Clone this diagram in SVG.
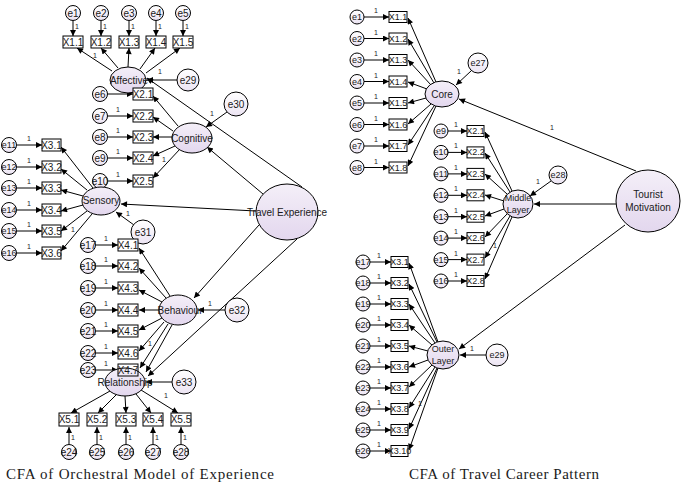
<svg xmlns="http://www.w3.org/2000/svg" width="685" height="486" viewBox="0 0 685 486">
<style>
.lat{fill:url(#lg);stroke:#000;stroke-width:1}
.err{fill:url(#eg);stroke:#000;stroke-width:1}
.box{fill:#fff;stroke:#000;stroke-width:1}
.bx0{fill:none;stroke:#000;stroke-width:1}
text{font-family:"Liberation Sans",Arial,sans-serif;fill:#1a1a1a}
.t{font-size:10px;text-anchor:middle;dominant-baseline:central}
.s{font-size:9px;text-anchor:middle;dominant-baseline:central}
.one{font-size:7px;text-anchor:middle}
.con line{stroke:#000;stroke-width:1;marker-end:url(#ah)}
.cap{font-family:"Liberation Serif","Times New Roman",serif;font-size:15px}
</style>
<defs>
<marker id="ah" viewBox="0 0 10 10" refX="10" refY="5" markerUnits="userSpaceOnUse" markerWidth="8" markerHeight="6" orient="auto"><path d="M0,0L10,5L0,10z" fill="#000"/></marker>
<linearGradient id="lg" x1="0" y1="0" x2="0" y2="1"><stop offset="0" stop-color="#f4eff8"/><stop offset="1" stop-color="#e3d7ee"/></linearGradient>
<linearGradient id="eg" x1="0" y1="0" x2="0" y2="1"><stop offset="0" stop-color="#ffffff"/><stop offset="1" stop-color="#ece4f3"/></linearGradient>
</defs>
<rect width="685" height="486" fill="#fff"/>

<g id="connectors" class="con">
<line x1="73" y1="21" x2="73" y2="36"/><line x1="101" y1="21" x2="101" y2="36"/><line x1="129" y1="21" x2="129" y2="36"/><line x1="156" y1="21" x2="156" y2="36"/><line x1="183" y1="21" x2="183" y2="36"/>
<line x1="112" y1="71" x2="77" y2="48"/><line x1="118" y1="68" x2="101" y2="48"/><line x1="128" y1="67" x2="129" y2="48"/><line x1="140" y1="69" x2="155" y2="48"/><line x1="146" y1="73" x2="180" y2="48"/>
<line x1="108" y1="94" x2="133" y2="94"/><line x1="108" y1="116" x2="133" y2="116"/><line x1="108" y1="137" x2="133" y2="137"/><line x1="108" y1="158" x2="133" y2="158"/><line x1="108" y1="181" x2="133" y2="181"/>
<line x1="178" y1="126" x2="153" y2="96"/><line x1="173" y1="131" x2="153" y2="117"/><line x1="172" y1="137" x2="153" y2="137"/><line x1="175" y1="146" x2="153" y2="156"/><line x1="180" y1="149" x2="153" y2="178"/>
<line x1="17" y1="145" x2="42" y2="145"/><line x1="17" y1="167" x2="42" y2="167"/><line x1="17" y1="188" x2="42" y2="188"/><line x1="17" y1="210" x2="42" y2="210"/><line x1="17" y1="231" x2="42" y2="231"/><line x1="17" y1="253" x2="42" y2="253"/>
<line x1="93" y1="188" x2="61" y2="147"/><line x1="87" y1="190" x2="61" y2="169"/><line x1="83" y1="196" x2="61" y2="190"/><line x1="83" y1="205" x2="61" y2="211"/><line x1="87" y1="211" x2="61" y2="231"/><line x1="92" y1="214" x2="61" y2="251"/>
<line x1="96" y1="245" x2="118" y2="245"/><line x1="96" y1="266" x2="118" y2="266"/><line x1="96" y1="288" x2="118" y2="288"/><line x1="96" y1="310" x2="118" y2="310"/><line x1="96" y1="331" x2="118" y2="331"/><line x1="96" y1="353" x2="118" y2="353"/><line x1="96" y1="370" x2="118" y2="370"/>
<line x1="170" y1="296" x2="139" y2="248"/><line x1="166" y1="298" x2="139" y2="268"/><line x1="162" y1="302" x2="139" y2="290"/><line x1="159" y1="310" x2="139" y2="310"/><line x1="162" y1="318" x2="139" y2="330"/><line x1="164" y1="322" x2="139" y2="351"/><line x1="168" y1="324" x2="140" y2="368"/><line x1="172" y1="325" x2="146" y2="372"/>
<line x1="110" y1="391" x2="71" y2="413"/><line x1="117" y1="394" x2="98" y2="413"/><line x1="125" y1="396" x2="126" y2="413"/><line x1="136" y1="394" x2="151" y2="413"/><line x1="141" y1="390" x2="178" y2="413"/>
<line x1="69" y1="444" x2="69" y2="427"/><line x1="97" y1="444" x2="97" y2="427"/><line x1="126" y1="444" x2="126" y2="427"/><line x1="153" y1="444" x2="153" y2="427"/><line x1="181" y1="444" x2="181" y2="427"/>
<line x1="177" y1="80" x2="147" y2="80"/>
<line x1="227" y1="112" x2="206" y2="127"/>
<line x1="134" y1="225" x2="116" y2="212"/>
<line x1="225" y1="310" x2="198" y2="310"/>
<line x1="172" y1="382" x2="146" y2="382"/>
<line x1="302" y1="187" x2="147" y2="78"/>
<line x1="263" y1="194" x2="207" y2="147"/>
<line x1="256" y1="211" x2="121" y2="204"/>
<line x1="259" y1="225" x2="194" y2="298"/>
<line x1="297" y1="239" x2="148" y2="376"/>

<line x1="364" y1="17" x2="389" y2="17"/><line x1="364" y1="38.5" x2="389" y2="38.5"/><line x1="364" y1="60" x2="389" y2="60"/><line x1="364" y1="81.5" x2="389" y2="81.5"/><line x1="364" y1="103" x2="389" y2="103"/><line x1="364" y1="124.5" x2="389" y2="124.5"/><line x1="364" y1="146" x2="389" y2="146"/><line x1="364" y1="167.5" x2="389" y2="167.5"/>
<line x1="436" y1="82" x2="408" y2="18"/><line x1="434" y1="83" x2="408" y2="39"/><line x1="431" y1="85" x2="408" y2="60"/><line x1="427" y1="89" x2="408" y2="82"/><line x1="426" y1="98" x2="408" y2="103"/><line x1="431" y1="104" x2="408" y2="124"/><line x1="434" y1="106" x2="408" y2="145"/><line x1="436" y1="106" x2="408" y2="166"/>
<line x1="448" y1="131" x2="467" y2="131"/><line x1="448" y1="152.4" x2="467" y2="152.4"/><line x1="448" y1="173.9" x2="467" y2="173.9"/><line x1="448" y1="195.3" x2="467" y2="195.3"/><line x1="448" y1="216.7" x2="467" y2="216.7"/><line x1="448" y1="238.1" x2="467" y2="238.1"/><line x1="448" y1="259.6" x2="467" y2="259.6"/><line x1="448" y1="281" x2="467" y2="281"/>
<line x1="512" y1="191" x2="485" y2="132"/><line x1="510" y1="192" x2="485" y2="153"/><line x1="507" y1="194" x2="485" y2="174"/><line x1="504" y1="201" x2="485" y2="195"/><line x1="504" y1="209" x2="485" y2="216"/><line x1="507" y1="214" x2="485" y2="237"/><line x1="510" y1="216" x2="485" y2="258"/><line x1="512" y1="217" x2="485" y2="279"/>
<line x1="370" y1="262" x2="391" y2="262"/><line x1="370" y1="283" x2="391" y2="283"/><line x1="370" y1="304" x2="391" y2="304"/><line x1="370" y1="325" x2="391" y2="325"/><line x1="370" y1="346" x2="391" y2="346"/><line x1="370" y1="367" x2="391" y2="367"/><line x1="370" y1="388" x2="391" y2="388"/><line x1="370" y1="409" x2="391" y2="409"/><line x1="370" y1="430" x2="391" y2="430"/><line x1="370" y1="451" x2="391" y2="451"/>
<line x1="438" y1="342" x2="409" y2="263"/><line x1="437" y1="342" x2="409" y2="284"/><line x1="435" y1="343" x2="409" y2="304"/><line x1="432" y1="345" x2="409" y2="325"/><line x1="428" y1="351" x2="409" y2="346"/><line x1="428" y1="360" x2="409" y2="367"/><line x1="432" y1="365" x2="409" y2="387"/><line x1="435" y1="367" x2="409" y2="408"/><line x1="437" y1="368" x2="409" y2="429"/><line x1="438" y1="368" x2="409" y2="450"/>
<line x1="471" y1="71" x2="456" y2="85"/>
<line x1="551" y1="181" x2="530" y2="196"/>
<line x1="486" y1="355" x2="460" y2="355"/>
<line x1="636" y1="171" x2="459" y2="99"/>
<line x1="616" y1="204" x2="534" y2="204"/>
<line x1="625" y1="225" x2="459" y2="349"/>
</g>

<g id="labels-one">
<text class="one" x="77" y="29">1</text><text class="one" x="105" y="29">1</text><text class="one" x="133" y="29">1</text><text class="one" x="160" y="29">1</text><text class="one" x="187" y="29">1</text>
<text class="one" x="95" y="58">1</text>
<text class="one" x="160" y="74">1</text>
<text class="one" x="118" y="90">1</text><text class="one" x="118" y="112">1</text><text class="one" x="118" y="133">1</text><text class="one" x="118" y="154">1</text><text class="one" x="118" y="177">1</text>
<text class="one" x="212" y="116">1</text>
<text class="one" x="164" y="162">1</text>
<text class="one" x="29" y="141">1</text><text class="one" x="29" y="163">1</text><text class="one" x="29" y="184">1</text><text class="one" x="29" y="206">1</text><text class="one" x="29" y="227">1</text><text class="one" x="29" y="249">1</text>
<text class="one" x="128" y="216">1</text>
<text class="one" x="73" y="232">1</text>
<text class="one" x="106" y="241">1</text><text class="one" x="106" y="262">1</text><text class="one" x="106" y="284">1</text><text class="one" x="106" y="306">1</text><text class="one" x="106" y="327">1</text><text class="one" x="106" y="349">1</text><text class="one" x="106" y="366">1</text>
<text class="one" x="210" y="306">1</text>
<text class="one" x="150" y="346">1</text>
<text class="one" x="166" y="398">1</text>
<text class="one" x="73" y="440">1</text><text class="one" x="101" y="440">1</text><text class="one" x="130" y="440">1</text><text class="one" x="157" y="440">1</text><text class="one" x="185" y="440">1</text>
<text class="one" x="376" y="13">1</text><text class="one" x="376" y="34.5">1</text><text class="one" x="376" y="56">1</text><text class="one" x="376" y="77.5">1</text><text class="one" x="376" y="99">1</text><text class="one" x="376" y="120.5">1</text><text class="one" x="376" y="142">1</text><text class="one" x="376" y="163.5">1</text>
<text class="one" x="459" y="74">1</text>
<text class="one" x="552" y="130">1</text>
<text class="one" x="456" y="127">1</text><text class="one" x="456" y="148.4">1</text><text class="one" x="456" y="169.9">1</text><text class="one" x="456" y="191.3">1</text><text class="one" x="456" y="212.7">1</text><text class="one" x="456" y="234.1">1</text><text class="one" x="456" y="255.6">1</text><text class="one" x="456" y="277">1</text>
<text class="one" x="538" y="184">1</text>
<text class="one" x="495" y="248">1</text>
<text class="one" x="379" y="258">1</text><text class="one" x="379" y="279">1</text><text class="one" x="379" y="300">1</text><text class="one" x="379" y="321">1</text><text class="one" x="379" y="342">1</text><text class="one" x="379" y="363">1</text><text class="one" x="379" y="384">1</text><text class="one" x="379" y="405">1</text><text class="one" x="379" y="426">1</text><text class="one" x="379" y="447">1</text>
<text class="one" x="472" y="351">1</text>
<text class="one" x="420" y="406">1</text>
</g>

<g id="e1"><circle class="err" cx="73" cy="13" r="7.5"/><text class="t" x="73" y="13">e1</text></g>
<g id="e2"><circle class="err" cx="101" cy="13" r="7.5"/><text class="t" x="101" y="13">e2</text></g>
<g id="e3"><circle class="err" cx="129" cy="13" r="7.5"/><text class="t" x="129" y="13">e3</text></g>
<g id="e4"><circle class="err" cx="156" cy="13" r="7.5"/><text class="t" x="156" y="13">e4</text></g>
<g id="e5"><circle class="err" cx="183" cy="13" r="7.5"/><text class="t" x="183" y="13">e5</text></g>
<g id="X1.1"><rect class="box" x="63" y="36" width="20" height="12"/><text class="t" x="73" y="42">X1.1</text></g>
<g id="X1.2"><rect class="box" x="91" y="36" width="20" height="12"/><text class="t" x="101" y="42">X1.2</text></g>
<g id="X1.3"><rect class="box" x="119" y="36" width="20" height="12"/><text class="t" x="129" y="42">X1.3</text></g>
<g id="X1.4"><rect class="box" x="146" y="36" width="20" height="12"/><text class="t" x="156" y="42">X1.4</text></g>
<g id="X1.5"><rect class="box" x="173" y="36" width="20" height="12"/><text class="t" x="183" y="42">X1.5</text></g>
<g id="Affective"><ellipse class="lat" cx="128" cy="80" rx="18" ry="13"/><text class="t" x="129" y="80">Affective</text></g>
<g id="e29L"><circle class="err" cx="188" cy="80" r="11"/><text class="t" x="188" y="80">e29</text></g>
<g id="e6"><circle class="err" cx="100" cy="94" r="7.5"/><text class="t" x="100" y="94">e6</text></g>
<g id="e7"><circle class="err" cx="100" cy="116" r="7.5"/><text class="t" x="100" y="116">e7</text></g>
<g id="e8"><circle class="err" cx="100" cy="137" r="7.5"/><text class="t" x="100" y="137">e8</text></g>
<g id="e9"><circle class="err" cx="100" cy="158" r="7.5"/><text class="t" x="100" y="158">e9</text></g>
<g id="e10"><circle class="err" cx="100" cy="181" r="7.5"/><text class="t" x="100" y="181">e10</text></g>
<g id="X2.1"><rect class="box" x="133" y="88" width="20" height="12"/><text class="t" x="143" y="94">X2.1</text></g>
<g id="X2.2"><rect class="box" x="133" y="110" width="20" height="12"/><text class="t" x="143" y="116">X2.2</text></g>
<g id="X2.3"><rect class="box" x="133" y="131" width="20" height="12"/><text class="t" x="143" y="137">X2.3</text></g>
<g id="X2.4"><rect class="box" x="133" y="152" width="20" height="12"/><text class="t" x="143" y="158">X2.4</text></g>
<g id="X2.5"><rect class="box" x="133" y="175" width="20" height="12"/><text class="t" x="143" y="181">X2.5</text></g>
<g id="Cognitive"><ellipse class="lat" cx="192" cy="138" rx="20" ry="15"/><text class="t" x="192" y="138">Cognitive</text></g>
<g id="e30"><circle class="err" cx="236" cy="104" r="12"/><text class="t" x="236" y="104">e30</text></g>
<g id="e11"><circle class="err" cx="9" cy="145" r="7.5"/><text class="s" x="9" y="145">e11</text></g>
<g id="e12"><circle class="err" cx="9" cy="167" r="7.5"/><text class="s" x="9" y="167">e12</text></g>
<g id="e13"><circle class="err" cx="9" cy="188" r="7.5"/><text class="s" x="9" y="188">e13</text></g>
<g id="e14"><circle class="err" cx="9" cy="210" r="7.5"/><text class="s" x="9" y="210">e14</text></g>
<g id="e15"><circle class="err" cx="9" cy="231" r="7.5"/><text class="s" x="9" y="231">e15</text></g>
<g id="e16"><circle class="err" cx="9" cy="253" r="7.5"/><text class="s" x="9" y="253">e16</text></g>
<g id="X3.1"><rect class="box" x="42" y="139" width="19" height="12"/><text class="t" x="51.5" y="145">X3.1</text></g>
<g id="X3.2"><rect class="box" x="42" y="161" width="19" height="12"/><text class="t" x="51.5" y="167">X3.2</text></g>
<g id="X3.3"><rect class="box" x="42" y="182" width="19" height="12"/><text class="t" x="51.5" y="188">X3.3</text></g>
<g id="X3.4"><rect class="box" x="42" y="204" width="19" height="12"/><text class="t" x="51.5" y="210">X3.4</text></g>
<g id="X3.5"><rect class="box" x="42" y="225" width="19" height="12"/><text class="t" x="51.5" y="231">X3.5</text></g>
<g id="X3.6"><rect class="box" x="42" y="247" width="19" height="12"/><text class="t" x="51.5" y="253">X3.6</text></g>
<g id="Sensory"><ellipse class="lat" cx="101" cy="201" rx="19" ry="14"/><text class="t" x="101" y="200">Sensory</text></g>
<g id="e31"><circle class="err" cx="143" cy="232" r="12"/><text class="t" x="143" y="232">e31</text></g>
<g id="TravelExperience"><ellipse class="lat" cx="287" cy="212" rx="31" ry="28"/><text class="t" x="287" y="212">Travel Experience</text></g>
<g id="e17"><circle class="err" cx="88" cy="245" r="7.5"/><text class="t" x="88" y="245">e17</text></g>
<g id="e18"><circle class="err" cx="88" cy="266" r="7.5"/><text class="t" x="88" y="266">e18</text></g>
<g id="e19"><circle class="err" cx="88" cy="288" r="7.5"/><text class="t" x="88" y="288">e19</text></g>
<g id="e20"><circle class="err" cx="88" cy="310" r="7.5"/><text class="t" x="88" y="310">e20</text></g>
<g id="e21"><circle class="err" cx="88" cy="331" r="7.5"/><text class="t" x="88" y="331">e21</text></g>
<g id="e22"><circle class="err" cx="88" cy="353" r="7.5"/><text class="t" x="88" y="353">e22</text></g>
<g id="e23"><circle class="err" cx="88" cy="370" r="7.5"/><text class="t" x="88" y="370">e23</text></g>
<g id="X4.1"><rect class="box" x="118" y="239" width="20" height="12"/><text class="t" x="128" y="245">X4.1</text></g>
<g id="X4.2"><rect class="box" x="118" y="260" width="20" height="12"/><text class="t" x="128" y="266">X4.2</text></g>
<g id="X4.3"><rect class="box" x="118" y="282" width="20" height="12"/><text class="t" x="128" y="288">X4.3</text></g>
<g id="X4.4"><rect class="box" x="118" y="304" width="20" height="12"/><text class="t" x="128" y="310">X4.4</text></g>
<g id="X4.5"><rect class="box" x="118" y="325" width="20" height="12"/><text class="t" x="128" y="331">X4.5</text></g>
<g id="X4.6"><rect class="box" x="118" y="347" width="20" height="12"/><text class="t" x="128" y="353">X4.6</text></g>
<g id="Behaviour"><ellipse class="lat" cx="178" cy="310" rx="19" ry="15"/><text class="t" x="180" y="310">Behaviour</text></g>
<g id="e32"><circle class="err" cx="237" cy="310" r="12"/><text class="t" x="237" y="310">e32</text></g>
<g id="Relationship"><ellipse class="lat" cx="125" cy="382" rx="20" ry="14"/></g>
<g id="X4.7"><rect class="bx0" x="118" y="364" width="20" height="12"/><text class="t" x="128" y="370">X4.7</text></g>
<g id="Relationship-label"><text class="t" x="125" y="382">Relationship</text></g>
<g id="e33"><circle class="err" cx="184" cy="382" r="12"/><text class="t" x="184" y="382">e33</text></g>
<g id="X5.1"><rect class="box" x="59" y="413" width="20" height="13"/><text class="t" x="69" y="419.5">X5.1</text></g>
<g id="X5.2"><rect class="box" x="87" y="413" width="20" height="13"/><text class="t" x="97" y="419.5">X5.2</text></g>
<g id="X5.3"><rect class="box" x="116" y="413" width="20" height="13"/><text class="t" x="126" y="419.5">X5.3</text></g>
<g id="X5.4"><rect class="box" x="143" y="413" width="20" height="13"/><text class="t" x="153" y="419.5">X5.4</text></g>
<g id="X5.5"><rect class="box" x="171" y="413" width="20" height="13"/><text class="t" x="181" y="419.5">X5.5</text></g>
<g id="e24"><circle class="err" cx="69" cy="452" r="7.5"/><text class="t" x="69" y="452">e24</text></g>
<g id="e25"><circle class="err" cx="97" cy="452" r="7.5"/><text class="t" x="97" y="452">e25</text></g>
<g id="e26"><circle class="err" cx="126" cy="452" r="7.5"/><text class="t" x="126" y="452">e26</text></g>
<g id="e27"><circle class="err" cx="153" cy="452" r="7.5"/><text class="t" x="153" y="452">e27</text></g>
<g id="e28"><circle class="err" cx="181" cy="452" r="7.5"/><text class="t" x="181" y="452">e28</text></g>

<g id="r-e1"><circle class="err" cx="357" cy="17" r="7"/><text class="s" x="357" y="17">e1</text></g>
<g id="r-e2"><circle class="err" cx="357" cy="38.5" r="7"/><text class="s" x="357" y="38.5">e2</text></g>
<g id="r-e3"><circle class="err" cx="357" cy="60" r="7"/><text class="s" x="357" y="60">e3</text></g>
<g id="r-e4"><circle class="err" cx="357" cy="81.5" r="7"/><text class="s" x="357" y="81.5">e4</text></g>
<g id="r-e5"><circle class="err" cx="357" cy="103" r="7"/><text class="s" x="357" y="103">e5</text></g>
<g id="r-e6"><circle class="err" cx="357" cy="124.5" r="7"/><text class="s" x="357" y="124.5">e6</text></g>
<g id="r-e7"><circle class="err" cx="357" cy="146" r="7"/><text class="s" x="357" y="146">e7</text></g>
<g id="r-e8"><circle class="err" cx="357" cy="167.5" r="7"/><text class="s" x="357" y="167.5">e8</text></g>
<g id="r-X1.1"><rect class="box" x="389" y="11.5" width="18" height="11"/><text class="s" x="398" y="17">X1.1</text></g>
<g id="r-X1.2"><rect class="box" x="389" y="33" width="18" height="11"/><text class="s" x="398" y="38.5">X1.2</text></g>
<g id="r-X1.3"><rect class="box" x="389" y="54.5" width="18" height="11"/><text class="s" x="398" y="60">X1.3</text></g>
<g id="r-X1.4"><rect class="box" x="389" y="76" width="18" height="11"/><text class="s" x="398" y="81.5">X1.4</text></g>
<g id="r-X1.5"><rect class="box" x="389" y="97.5" width="18" height="11"/><text class="s" x="398" y="103">X1.5</text></g>
<g id="r-X1.6"><rect class="box" x="389" y="119" width="18" height="11"/><text class="s" x="398" y="124.5">X1.6</text></g>
<g id="r-X1.7"><rect class="box" x="389" y="140.5" width="18" height="11"/><text class="s" x="398" y="146">X1.7</text></g>
<g id="r-X1.8"><rect class="box" x="389" y="162" width="18" height="11"/><text class="s" x="398" y="167.5">X1.8</text></g>
<g id="Core"><ellipse class="lat" cx="442" cy="94" rx="17" ry="13"/><text class="t" x="442" y="94">Core</text></g>
<g id="r-e27"><circle class="err" cx="478" cy="63" r="10"/><text class="s" x="478" y="63">e27</text></g>
<g id="r-e9"><circle class="err" cx="441" cy="131" r="7"/><text class="s" x="441" y="131">e9</text></g>
<g id="r-e10"><circle class="err" cx="441" cy="152.4" r="7"/><text class="s" x="441" y="152.4">e10</text></g>
<g id="r-e11"><circle class="err" cx="441" cy="173.9" r="7"/><text class="s" x="441" y="173.9">e11</text></g>
<g id="r-e12"><circle class="err" cx="441" cy="195.3" r="7"/><text class="s" x="441" y="195.3">e12</text></g>
<g id="r-e13"><circle class="err" cx="441" cy="216.7" r="7"/><text class="s" x="441" y="216.7">e13</text></g>
<g id="r-e14"><circle class="err" cx="441" cy="238.1" r="7"/><text class="s" x="441" y="238.1">e14</text></g>
<g id="r-e15"><circle class="err" cx="441" cy="259.6" r="7"/><text class="s" x="441" y="259.6">e15</text></g>
<g id="r-e16"><circle class="err" cx="441" cy="281" r="7"/><text class="s" x="441" y="281">e16</text></g>
<g id="r-X2.1"><rect class="box" x="467" y="125.5" width="17" height="11"/><text class="s" x="475.5" y="131">X2.1</text></g>
<g id="r-X2.2"><rect class="box" x="467" y="146.9" width="17" height="11"/><text class="s" x="475.5" y="152.4">X2.2</text></g>
<g id="r-X2.3"><rect class="box" x="467" y="168.4" width="17" height="11"/><text class="s" x="475.5" y="173.9">X2.3</text></g>
<g id="r-X2.4"><rect class="box" x="467" y="189.8" width="17" height="11"/><text class="s" x="475.5" y="195.3">X2.4</text></g>
<g id="r-X2.5"><rect class="box" x="467" y="211.2" width="17" height="11"/><text class="s" x="475.5" y="216.7">X2.5</text></g>
<g id="r-X2.6"><rect class="box" x="467" y="232.6" width="17" height="11"/><text class="s" x="475.5" y="238.1">X2.6</text></g>
<g id="r-X2.7"><rect class="box" x="467" y="254.1" width="17" height="11"/><text class="s" x="475.5" y="259.6">X2.7</text></g>
<g id="r-X2.8"><rect class="box" x="467" y="275.5" width="17" height="11"/><text class="s" x="475.5" y="281">X2.8</text></g>
<g id="MiddleLayer"><ellipse class="lat" cx="518" cy="204" rx="15" ry="14"/><text class="s" x="518" y="198">Middle</text><text class="s" x="518" y="210">Layer</text></g>
<g id="r-e28"><circle class="err" cx="558" cy="175" r="9"/><text class="s" x="558" y="175">e28</text></g>
<g id="TouristMotivation"><ellipse class="lat" cx="648" cy="201" rx="32" ry="31"/><text class="t" x="648" y="194">Tourist</text><text class="t" x="648" y="207">Motivation</text></g>
<g id="r-e17"><circle class="err" cx="363" cy="262" r="7"/><text class="s" x="363" y="262">e17</text></g>
<g id="r-e18"><circle class="err" cx="363" cy="283" r="7"/><text class="s" x="363" y="283">e18</text></g>
<g id="r-e19"><circle class="err" cx="363" cy="304" r="7"/><text class="s" x="363" y="304">e19</text></g>
<g id="r-e20"><circle class="err" cx="363" cy="325" r="7"/><text class="s" x="363" y="325">e20</text></g>
<g id="r-e21"><circle class="err" cx="363" cy="346" r="7"/><text class="s" x="363" y="346">e21</text></g>
<g id="r-e22"><circle class="err" cx="363" cy="367" r="7"/><text class="s" x="363" y="367">e22</text></g>
<g id="r-e23"><circle class="err" cx="363" cy="388" r="7"/><text class="s" x="363" y="388">e23</text></g>
<g id="r-e24"><circle class="err" cx="363" cy="409" r="7"/><text class="s" x="363" y="409">e24</text></g>
<g id="r-e25"><circle class="err" cx="363" cy="430" r="7"/><text class="s" x="363" y="430">e25</text></g>
<g id="r-e26"><circle class="err" cx="363" cy="451" r="7"/><text class="s" x="363" y="451">e26</text></g>
<g id="r-X3.1"><rect class="box" x="391" y="256.5" width="17" height="11"/><text class="s" x="399.5" y="262">X3.1</text></g>
<g id="r-X3.2"><rect class="box" x="391" y="277.5" width="17" height="11"/><text class="s" x="399.5" y="283">X3.2</text></g>
<g id="r-X3.3"><rect class="box" x="391" y="298.5" width="17" height="11"/><text class="s" x="399.5" y="304">X3.3</text></g>
<g id="r-X3.4"><rect class="box" x="391" y="319.5" width="17" height="11"/><text class="s" x="399.5" y="325">X3.4</text></g>
<g id="r-X3.5"><rect class="box" x="391" y="340.5" width="17" height="11"/><text class="s" x="399.5" y="346">X3.5</text></g>
<g id="r-X3.6"><rect class="box" x="391" y="361.5" width="17" height="11"/><text class="s" x="399.5" y="367">X3.6</text></g>
<g id="r-X3.7"><rect class="box" x="391" y="382.5" width="17" height="11"/><text class="s" x="399.5" y="388">X3.7</text></g>
<g id="r-X3.8"><rect class="box" x="391" y="403.5" width="17" height="11"/><text class="s" x="399.5" y="409">X3.8</text></g>
<g id="r-X3.9"><rect class="box" x="391" y="424.5" width="17" height="11"/><text class="s" x="399.5" y="430">X3.9</text></g>
<g id="r-X3.10"><rect class="box" x="391" y="445.5" width="17" height="11"/><text class="s" x="399.5" y="451">X3.10</text></g>
<g id="OuterLayer"><ellipse class="lat" cx="443" cy="355" rx="16" ry="14"/><text class="s" x="443" y="349">Outer</text><text class="s" x="443" y="361">Layer</text></g>
<g id="r-e29"><circle class="err" cx="497" cy="355" r="11"/><text class="s" x="497" y="355">e29</text></g>

<g id="captions">
<text class="cap" x="6" y="479" textLength="268" lengthAdjust="spacing">CFA of Orchestral Model of Experience</text>
<text class="cap" x="409" y="479" textLength="190" lengthAdjust="spacing">CFA of Travel Career Pattern</text>
</g>
</svg>
